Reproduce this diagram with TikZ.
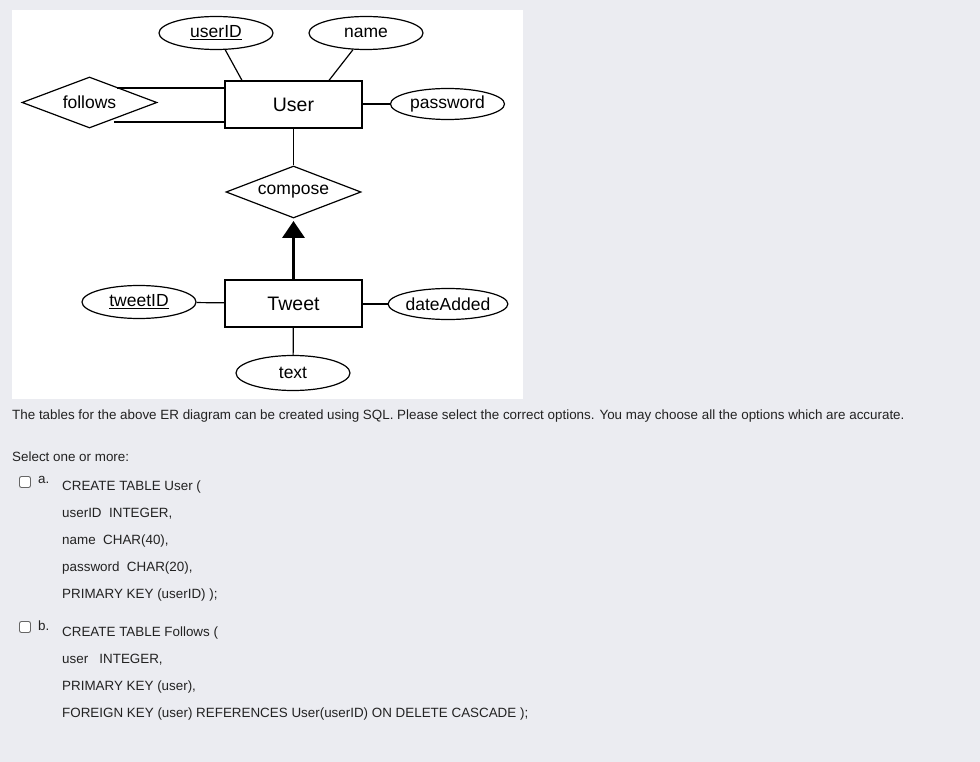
\documentclass[tikz,border=0pt]{standalone}
\usepackage{fontspec}
\setmainfont{Liberation Sans}
\usetikzlibrary{shapes.geometric,arrows.meta}
\definecolor{bg}{HTML}{EBECF1}
\definecolor{txt}{HTML}{222222}
\begin{document}
\begin{tikzpicture}[x=1pt,y=-1pt,
 ell/.style={draw,line width=1.2pt,ellipse,minimum width=114pt,minimum height=33pt,inner sep=0pt,font=\fontsize{17.5}{17.5}\selectfont},
 ent/.style={draw,line width=1.2pt,rectangle,minimum width=137pt,minimum height=47pt,font=\fontsize{19.5}{19.5}\selectfont},
 rel/.style={draw,line width=1.2pt,diamond,aspect=2.6,minimum width=135pt,minimum height=52pt,inner sep=0pt,font=\fontsize{17.5}{17.5}\selectfont},
 con/.style={line width=1.2pt},
 body/.style={anchor=west,inner sep=0pt,text=txt,font=\fontsize{13.4}{14}\selectfont},
 cb/.style={draw=gray!80!black,line width=0.9pt,rounded corners=2pt,minimum size=11pt,inner sep=0pt,fill=white}]
\fill[bg] (0,0) rectangle (980,762);
\fill[white] (12,10) rectangle (523,399);
\node[ell] (uid) at (216,33) {\underline{userID}};
\node[ell] (name) at (366,33) {name};
\node[ent] (user) at (293.5,104.5) {User};
\node[rel,minimum height=51pt] (fol) at (89.5,102.5) {follows};
\node[ell,minimum height=31pt] (pw) at (447.5,104) {password};
\node[rel] (comp) at (293.5,192) {compose};
\node[ent] (tw) at (293.5,303.5) {Tweet};
\node[ell] (tid) at (139,302) {\underline{tweetID}};
\node[ell,minimum height=31pt] (da) at (448,304) {dateAdded};
\node[ell,minimum height=35pt] (txt) at (293,373) {text};
\draw[con] (uid) -- (user.north -| 242,0);
\draw[con] (name) -- (user.north -| 329,0);
\draw[con] (117,88) -- (user.west |- 0,88);
\draw[con] (114,122) -- (user.west |- 0,122);
\draw[con] (user.east |- pw) -- (pw.west);
\draw[con] (user) -- (comp);
\draw[line width=3.5pt,-{Triangle[length=17pt,width=22pt]}] (tw) -- (comp.south |- 0,221);
\draw[con] (tid) -- (tw);
\draw[con] (tw.east |- da) -- (da);
\draw[con] (tw) -- (txt);
\node[body] (q) at (12,416) {The tables for the above ER diagram can be created using SQL. Please select the correct options. You may choose all the options which are accurate.};
\node[body] (sel) at (12,457) {Select one or more:};
\node[cb] (ca) at (25,482) {};
\node[body] (la) at (38,480) {a.};
\node[body] (a1) at (62,487) {CREATE TABLE User (};
\node[body] (a2) at (62,514) {userID\ \ INTEGER,};
\node[body] (a3) at (62,541) {name\ \ CHAR(40),};
\node[body] (a4) at (62,568) {password\ \ CHAR(20),};
\node[body] (a5) at (62,595) {PRIMARY KEY (userID) );};
\node[cb] (cbb) at (25,627) {};
\node[body] (lb) at (38,626) {b.};
\node[body] (b1) at (62,633) {CREATE TABLE Follows (};
\node[body] (b2) at (62,660) {user\ \ \ INTEGER,};
\node[body] (b3) at (62,687) {PRIMARY KEY (user),};
\node[body] (b4) at (62,714) {FOREIGN KEY (user) REFERENCES User(userID) ON DELETE CASCADE );};
\end{tikzpicture}
\end{document}
